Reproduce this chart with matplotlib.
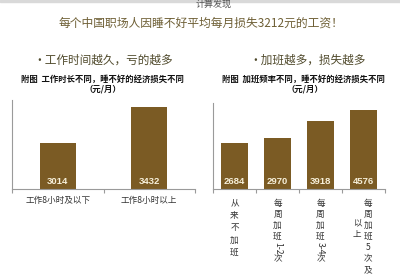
import matplotlib
matplotlib.use("Agg")
import matplotlib.pyplot as plt
from matplotlib.patches import Rectangle

plt.rcParams['font.family'] = ['Noto Sans CJK SC', 'DejaVu Sans']

# ---- data ----
top_label = "计算发现"
main_title = "每个中国职场人因睡不好平均每月损失3212元的工资！"

left_heading = "•工作时间越久，亏的越多"
left_caption = "附图  工作时长不同，睡不好的经济损失不同"
left_categories = ["工作8小时及以下", "工作8小时以上"]
left_values = [3014, 3432]

right_heading = "•加班越多，损失越多"
right_caption = "附图  加班频率不同，睡不好的经济损失不同"
unit_label = "（元/月）"
right_categories = ["从来不加班", "每周加班1-2次", "每周加班3-4次", "每周加班5次及以上"]
right_values = [2684, 2970, 3918, 4576]

# vertical label units (column-wise), rotated units marked
right_label_columns = [
    [(["从", "来", "不", "加", "班"], 0, 0)],
    [(["每", "周", "加", "班", "1-2", "次"], 0, 0)],
    [(["每", "周", "加", "班", "3-4", "次"], 0, 0)],
    [(["每", "周", "加", "班", "5", "次", "及"], 4.5, 0), (["以", "上"], -6.5, 20)],
]

BAR = "#7b5b24"
VAL = "#f6efd9"
SPINE = "#9a9a9a"

W, H = 400, 276
fig = plt.figure(figsize=(4.0, 2.76), dpi=100)
fig.patch.set_facecolor("white")

def fx(px):
    return px / W

def fy(py):
    return 1 - py / H

# top strip
fig.patches.append(Rectangle((0, fy(2)), 1, 2 / H, transform=fig.transFigure,
                             color="#d9d9d9", zorder=0))

fig.text(fx(214), fy(4.5), top_label, ha="center", va="center", fontsize=6.5, color="#555555")
fig.text(fx(201), fy(23), main_title, ha="center", va="center", fontsize=8.5,
         color="#6e5f35")

fig.text(fx(103), fy(60), left_heading, ha="center", va="center", fontsize=8.4, color="#504a2c")
fig.text(fx(308), fy(60), right_heading, ha="center", va="center", fontsize=8.4, color="#504a2c")
fig.text(fx(102), fy(79), left_caption, ha="center", va="center", fontsize=6.0,
         color="#111111", fontweight="bold")
fig.text(fx(303), fy(79), right_caption, ha="center", va="center", fontsize=6.0,
         color="#111111", fontweight="bold")
fig.text(fx(103), fy(89), unit_label, ha="center", va="center", fontsize=6.0,
         color="#111111", fontweight="bold")
fig.text(fx(305), fy(89), unit_label, ha="center", va="center", fontsize=6.0,
         color="#111111", fontweight="bold")


def style_axes(ax, n):
    for s in ["top", "right"]:
        ax.spines[s].set_visible(False)
    for s in ["left", "bottom"]:
        ax.spines[s].set_color(SPINE)
        ax.spines[s].set_linewidth(0.8)
    ax.set_yticks([])
    ax.set_xticks([])
    ax.set_xticks([i - 0.5 for i in range(n + 1)], minor=True)
    ax.tick_params(axis="x", which="minor", length=3, color=SPINE, width=0.8, direction="out")
    ax.set_xlim(-0.5, n - 0.5)
    ax.patch.set_alpha(0)


# left chart
axL = fig.add_axes([fx(12), fy(189), fx(195) - fx(12), fy(100) - fy(189)])
xl = list(range(len(left_values)))
axL.bar(xl, left_values, width=0.39, color=BAR, bottom=0)
axL.set_ylim(2480, 3513)
style_axes(axL, len(left_values))
for i, v in enumerate(left_values):
    axL.annotate(str(v), xy=(i, 0), xycoords=("data", "axes fraction"),
                 xytext=(0, 7), textcoords="offset pixels", ha="center", va="center",
                 fontsize=6.8, fontweight="bold", color=VAL, family="Liberation Sans")
    axL.annotate(left_categories[i], xy=(i, 0), xycoords=("data", "axes fraction"),
                 xytext=(0, -11), textcoords="offset pixels", ha="center", va="center",
                 fontsize=6.2, color="#333333")

# right chart
axR = fig.add_axes([fx(213), fy(189), fx(385) - fx(213), fy(103) - fy(189)])
xr = list(range(len(right_values)))
axR.bar(xr, right_values, width=0.65, color=BAR)
axR.set_ylim(0, 4980)
style_axes(axR, len(right_values))
for i, v in enumerate(right_values):
    axR.annotate(str(v), xy=(i, 0), xycoords=("data", "axes fraction"),
                 xytext=(0, 7), textcoords="offset pixels", ha="center", va="center",
                 fontsize=6.8, fontweight="bold", color=VAL, family="Liberation Sans")
    cols = right_label_columns[i]
    for units, dx, dy0 in cols:
        step = 12.3 if len(units) == 5 else 11.2
        for k, u in enumerate(units):
            rot = -90 if len(u) > 1 else 0
            axR.annotate(u, xy=(i, 0), xycoords=("data", "axes fraction"),
                         xytext=(dx, -(14 + dy0 + k * step)), textcoords="offset pixels",
                         ha="center", va="center", fontsize=6.2, color="#333333",
                         rotation=rot, fontweight="light")

fig.savefig("out.png", dpi=100, facecolor="white")
